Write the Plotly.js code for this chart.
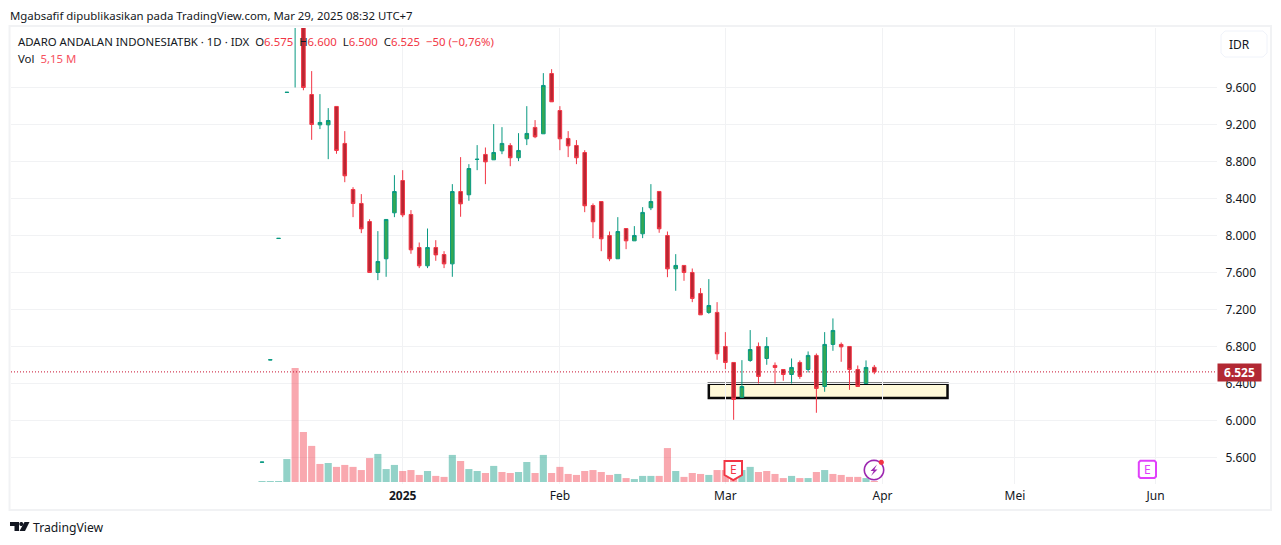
<!DOCTYPE html>
<html><head><meta charset="utf-8">
<script src="https://cdn.plot.ly/plotly-3.0.1.min.js"></script>
<style>html,body{margin:0;padding:0;background:#fff}#c{width:1281px;height:545px}</style>
</head><body><div id="c"></div>
<script>
const sessions=[...Array(75).keys()];
const opens=[5548,6654,7967,9546,10500,10600,9524,9196,9196,9395,8995,8497,8346,8151,7600,7748,8245,8594,8227,7870,7672,7870,7794,7693,8475,8440,8822,8876,8818,8915,8973,8840,9045,9168,9099,9751,9351,9049,8973,8897,8324,8367,8000,7748,8075,7942,8018,8299,8476,8000,7640,7676,7600,7373,7168,7168,6800,6627,6249,6649,6800,6670,6595,6551,6497,6627,6551,6703,6367,6822,6822,6800,6551,6400,6575];
const highs=[5550,6656,7969,9548,11000,10650,9777,9528,9377,9395,9128,8522,8447,8176,8047,8173,8652,8706,8274,7924,8075,7949,7830,8555,8847,8771,8977,8951,9204,9171,8998,9106,9398,9247,9755,9798,9398,9128,9031,8922,8346,8367,8043,8198,8075,8101,8306,8555,8476,8043,7798,7676,7643,7431,7528,7279,6955,6627,6652,6977,6843,6901,6627,6551,6670,6649,6746,6724,6955,7103,6843,6800,6594,6649,6600];
const lows=[5546,6652,7965,9544,9600,9570,9034,9150,8825,8883,8576,8198,8025,7600,7517,7553,8198,8198,7802,7647,7647,7726,7647,7553,8202,8375,8706,8555,8818,8879,8749,8804,8977,9052,9099,9445,8922,8847,8771,8252,7971,7830,7722,7748,7852,7942,7971,8274,8029,7549,7402,7510,7279,7142,7153,6656,6555,6007,6249,6634,6400,6602,6400,6429,6400,6450,6519,6083,6310,6753,6634,6331,6367,6400,6500];
const closes=[5550,6656,7969,9548,10800,9600,9200,9222,9243,8919,8645,8346,8072,7600,7719,8173,8475,8223,7845,7672,7870,7790,7693,8475,8342,8724,8824,8796,8897,8995,8840,8919,9103,9067,9622,9445,9045,8969,8840,8321,8148,7964,7748,8043,7942,8000,8249,8367,8072,7639,7676,7600,7319,7142,7243,6721,6627,6227,6367,6767,6476,6800,6573,6497,6573,6476,6703,6346,6822,6973,6796,6551,6367,6573,6525];
const volumesM=[5,5,5,117,581,255,184,92,97,77,87,77,61,122,143,66,87,56,61,36,56,31,26,138,107,66,56,46,82,51,46,51,102,46,138,46,77,41,36,56,61,51,36,41,20,15,31,31,31,173,56,26,46,41,36,61,61,61,61,77,51,56,41,20,31,20,20,51,61,41,36,26,26,20,5.15];
const volumeUp=[1,1,1,1,0,0,0,0,1,0,0,0,0,0,1,1,1,0,0,0,1,0,0,1,0,1,1,0,1,0,0,1,1,0,1,0,0,0,0,0,0,0,0,1,0,1,1,1,0,0,1,0,0,0,1,0,0,0,1,1,0,0,0,0,1,0,1,0,1,0,0,0,0,1,0];
const timeTicks=[17,36,56,75,91,108];
const timeLabels=['<b>2025</b>','Feb','Mar','Apr','Mei','Jun'];
const priceTicks=[5600,6000,6400,6800,7200,7600,8000,8400,8800,9200,9600];
const priceLabels=['5.600','6.000','6.400','6.800','7.200','7.600','8.000','8.400','8.800','9.200','9.600'];
const lastClose=6525;
const zoneLow=6242, zoneHigh=6396, zoneStart=54, zoneEnd=82.85;

const W=1281,H=545,L=11,R=1217,T=28,B=484;
const px=x=>(x-L)/(R-L), py=y=>(B-y)/(B-T);
const xr=[-30.34,115.42], pr=[5313,10243], vr=[-10.2,2314];
const FONT='"Noto Sans", sans-serif', INK='#131722', RED='#f23645', DRED='#b22833';
const lastOnVol=vr[0]+(lastClose-pr[0])/(pr[1]-pr[0])*(vr[1]-vr[0]);

function pathPx(pts){return pts.map((p,i)=>(i?'L':'M')+px(p[0]).toFixed(5)+','+py(p[1]).toFixed(5)).join(' ')+' Z';}
function circlePts(cx,cy,r){const a=[];for(let d=0;d<360;d+=15){const t=d*Math.PI/180;a.push([cx+r*Math.cos(t),cy+r*Math.sin(t)]);}return a;}
function paperShape(path,fill,line,w,layer){return {type:'path',xref:'paper',yref:'paper',path,fillcolor:fill,line:{color:line||'rgba(0,0,0,0)',width:w||0},layer:layer||'above'};}
function roundRect(x0,y0,x1,y1,r){return [[x0+r,y0],[x1-r,y0],[x1,y0+r],[x1,y1-r],[x1-r,y1],[x0+r,y1],[x0,y1-r],[x0,y0+r]];}
function note(text,x,y,size,color,anchor,extra){return Object.assign({xref:'paper',yref:'paper',x:px(x),y:py(y),text,showarrow:false,xanchor:anchor||'left',yanchor:'middle',font:{family:FONT,size,color},align:'left'},extra||{});}

const r=t=>'<span style="color:'+RED+'">'+t+'</span>';
const annotations=[
 note('Mgabsafif dipublikasikan pada TradingView.com, Mar 29, 2025 08:32 UTC+7',8,15,11.4,INK),
 note('ADARO ANDALAN INDONESIATBK · 1D · IDX  O'+r('6.575')+'  H'+r('6.600')+'  L'+r('6.500')+'  C'+r('6.525')+'  '+r('−50 (−0,76%)'),16,41.5,11.4,INK),
 note('Vol  <span style="color:#f7525f">5,15 M</span>',16,58.5,11.4,INK),
 note('IDR',1239.5,44.5,12,INK,'center'),
 note('<b>6.525</b>',1239.5,372.5,12,'#ffffff','center',{bgcolor:DRED,width:43,height:17,borderpad:0,align:'center'}),
 note('E',733.3,469.5,12,RED,'center'),
 note('E',1147.5,469.5,12,'#e040fb','center'),
 note('TradingView',31,527,12.2,'#131722')
];
const shapes=[
 paperShape(pathPx([[9.5,26],[1271,26],[1271,510],[9.5,510]]),'rgba(0,0,0,0)','#f1f2f4',2,'below'),
 {type:'rect',xref:'x',yref:'y2',x0:zoneStart,x1:zoneEnd,y0:zoneLow,y1:zoneHigh,fillcolor:'#fff9d9',line:{color:'#0a0a0a',width:2.5},layer:'below'},
 paperShape(pathPx(roundRect(1221,31,1267,57,4)),'#ffffff','#f0f3fa',1,'above'),
 paperShape(pathPx([[724.5,461],[742,461],[742,475],[733.3,480],[724.5,475]]),'#ffffff',RED,2),
 paperShape(pathPx(circlePts(874,470,9.7)),'#ffffff','#9c27b0',1.6),
 paperShape(pathPx([[877,464.5],[870.5,471],[873.7,471],[871,476],[877.5,469.5],[874.3,469.5]]),'#9c27b0'),
 paperShape(pathPx(circlePts(881.3,462.3,2.6)),RED),
 paperShape(pathPx(roundRect(1138.8,460.8,1156,478,1.5)),'#ffffff','#e040fb',2),
 paperShape(pathPx([[10,522],[19,522],[19,531],[14.5,531],[14.5,526],[10,526]]),'#131722'),
 paperShape(pathPx(circlePts(21.3,524,2)),'#131722'),
 paperShape(pathPx([[24.5,522],[29.5,522],[25,531],[19.5,531]]),'#131722')
];
const data=[
 {type:'bar',x:sessions,y:volumesM,yaxis:'y',marker:{color:volumeUp.map(u=>u?'rgba(8,153,129,0.44)':'rgba(242,54,69,0.43)'),line:{width:0}},hoverinfo:'skip'},
 {type:'scatter',mode:'lines',x:xr,y:[lastOnVol,lastOnVol],yaxis:'y',line:{color:'#c8102e',width:1,dash:'1px,2px'},hoverinfo:'skip'},
 {type:'candlestick',x:sessions,open:opens,high:highs,low:lows,close:closes,yaxis:'y2',whiskerwidth:0,
  increasing:{line:{color:'#089981',width:1},fillcolor:'#34a853'},
  decreasing:{line:{color:RED,width:1},fillcolor:'#b92632'},hoverinfo:'skip'}
];
const layout={
 width:W,height:H,margin:{l:L,r:W-R,t:T,b:H-B,pad:0},paper_bgcolor:'#fff',plot_bgcolor:'#fff',showlegend:false,
 hovermode:false,dragmode:false,bargap:0.14,boxgap:0.38,font:{family:FONT,color:INK},
 xaxis:{range:xr,tickmode:'array',tickvals:timeTicks,ticktext:timeLabels,ticks:'outside',ticklen:1,tickcolor:'rgba(0,0,0,0)',showline:false,zeroline:false,showgrid:true,gridcolor:'#f1f2f4',gridwidth:1,rangeslider:{visible:false},tickfont:{family:FONT,size:12,color:INK},tickangle:0},
 yaxis:{range:vr,showgrid:false,zeroline:false,showticklabels:false,ticks:'',showline:false},
 yaxis2:{range:pr,overlaying:'y',side:'right',tickmode:'array',tickvals:priceTicks,ticktext:priceLabels,ticks:'outside',ticklen:5,tickcolor:'rgba(0,0,0,0)',showline:false,zeroline:false,showgrid:true,gridcolor:'#f1f2f4',gridwidth:1,tickfont:{family:FONT,size:12,color:INK}},
 shapes,annotations
};
Plotly.newPlot('c',data,layout,{displayModeBar:false,staticPlot:true});
</script></body></html>
